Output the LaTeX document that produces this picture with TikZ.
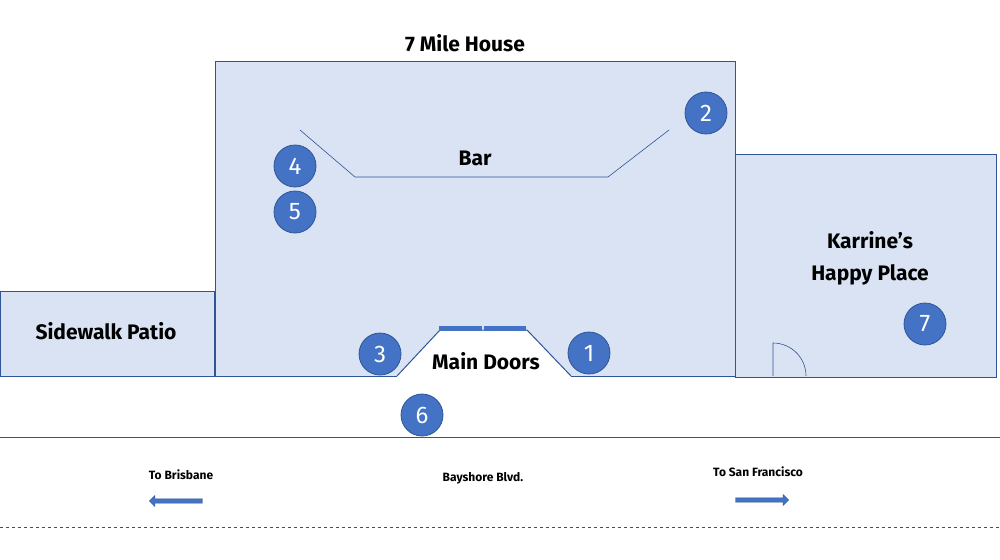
\documentclass[tikz,border=0pt]{standalone}
\usepackage{fontspec}
\setmainfont{Fira Sans}
\usetikzlibrary{shapes.arrows}
\definecolor{roomfill}{HTML}{DAE3F3}
\definecolor{edge}{HTML}{2F5597}
\definecolor{dotblue}{HTML}{4472C4}
\tikzset{
 room/.style={fill=roomfill,draw=edge,line width=1pt},
 num/.style={circle,fill=dotblue,draw=edge,line width=0.8pt,minimum size=42pt,inner sep=0pt,text=white,font=\fontsize{24}{24}\selectfont},
 big/.style={font=\fontsize{21}{32}\selectfont\bfseries},
 small/.style={font=\fontsize{12}{12}\selectfont\bfseries},
 blockarrow/.style={single arrow,fill=dotblue,draw=edge,line width=0.4pt,minimum height=53pt,minimum width=11pt,single arrow head extend=2pt,inner sep=1pt}
}
\begin{document}
\begin{tikzpicture}[x=1pt,y=-1pt]
\useasboundingbox (0,0) rectangle (1000,559);
\fill[white] (0,0) rectangle (1000,559);
\draw[room] (0,291) rectangle (214,376);
\fill[roomfill] (215,62) rectangle (735,376);
\draw[edge,line width=1pt] (397,376) -- (215,376) -- (215,62) -- (735,62) -- (735,376) -- (571,376);
\draw[room] (735,154) rectangle (996,377);
\draw[edge,line width=1pt,fill=white] (397,376) -- (440,330) -- (527,330) -- (571,376);
\fill[dotblue] (439,326) rectangle (482,331);
\fill[dotblue] (484,326) rectangle (526,331);
\draw[edge,line width=0.6pt] (300,130) -- (355,177) -- (608,177) -- (669,130);
\draw[edge,line width=0.6pt] (773,376) -- (773,343) arc[start angle=-90,end angle=0,radius=33];
\draw[edge,line width=1pt] (0,437) -- (1000,437);
\draw[black!70,dashed,line width=0.6pt] (0,527) -- (1000,527);
\node[big] (title) at (465,43) {7 Mile House};
\node[big] (bar) at (475,158) {Bar};
\node[big,align=center] (karrine) at (870,258) {Karrine’s\\Happy Place};
\node[big] (patio) at (106,331) {Sidewalk Patio};
\node[big] (doors) at (486,361) {Main Doors};
\node[num] (n2) at (706,113) {2};
\node[num] (n4) at (295,166) {4};
\node[num] (n5) at (295,212) {5};
\node[num] (n3) at (380,354) {3};
\node[num] (n1) at (589,353) {1};
\node[num] (n6) at (422,415) {6};
\node[num] (n7) at (925,324) {7};
\node[small] (bris) at (181,475) {To Brisbane};
\node[small] (bay) at (483,478) {Bayshore Blvd.};
\node[small] (sf) at (758,472) {To San Francisco};
\node[blockarrow,shape border rotate=180] (la) at (177,501) {};
\node[blockarrow] (ra) at (761,500) {};
\end{tikzpicture}
\end{document}
